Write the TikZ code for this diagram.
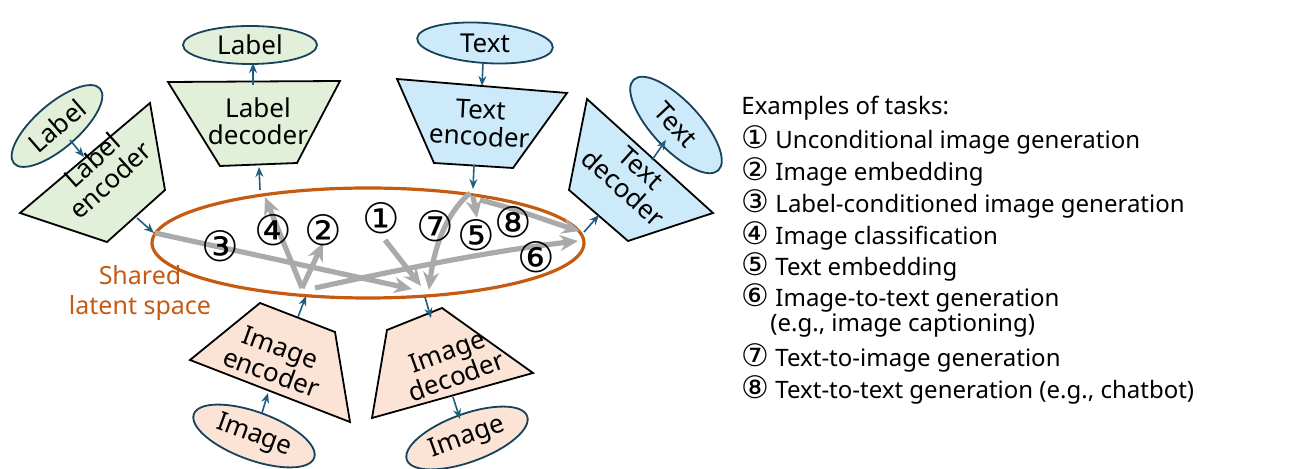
\documentclass[tikz,border=0pt]{standalone}
\usepackage{fontspec}
\setmainfont{Noto Sans}
\newfontfamily\circfont{DejaVu Sans}
\usetikzlibrary{arrows.meta}
\definecolor{lgreen}{RGB}{226,240,217}
\definecolor{lblue}{RGB}{204,234,250}
\definecolor{lsalmon}{RGB}{251,228,213}
\definecolor{darr}{RGB}{31,94,130}
\definecolor{orng}{RGB}{197,90,17}
\definecolor{garr}{RGB}{170,170,170}
\tikzset{
 shp/.style={draw=black,line width=0.9pt,line join=miter},
 ell/.style={draw=darr!70!black,line width=0.9pt},
 lbl/.style={font=\fontsize{13}{13.5}\selectfont,align=center,inner sep=0pt},
 barr/.style={-{Stealth[length=5pt,width=4pt]},darr,line width=0.8pt},
 garrow/.style={-{Stealth[length=9pt,width=8pt]},garr,line width=2.6pt},
 num/.style={font=\circfont\fontsize{21}{21}\selectfont,inner sep=0pt},
 task/.style={font=\fontsize{12}{13}\selectfont,anchor=west,inner sep=0pt}
}
\newcommand{\cn}[1]{{\circfont\fontsize{15.5}{13}\selectfont #1}}
\begin{document}
\begin{tikzpicture}[x=0.5pt,y=-0.5pt]
\useasboundingbox (0,0) rectangle (1290,469);
% latent ellipse
\draw[orng,line width=1.6pt] (368,243) ellipse [x radius=216,y radius=55];
\node[lbl,text=orng,font=\fontsize{12.5}{15}\selectfont] (sls) at (140,293) {Shared\\latent space};
% Label encoder
\draw[shp,fill=lgreen] (150,103)--(165,190)--(107,242)--(20,213)--cycle;
\node[lbl,rotate=42] (le) at (101,170) {Label\\encoder};
\draw[ell,fill=lgreen,rotate around={41:(57,126)}] (57,126) ellipse [x radius=57,y radius=22];
\node[lbl,rotate=41] (lin) at (57,126) {Label};
\coordinate (a1) at (70,140); \coordinate (a2) at (84,157);
\draw[barr] (a1)--(a2);
\coordinate (a3) at (137,218); \coordinate (a4) at (154,233);
\draw[barr] (a3)--(a4);
% Label decoder
\draw[shp,fill=lgreen] (168,82)--(340,81)--(297,163)--(220,166)--cycle;
\node[lbl] (ld) at (258,121) {Label\\decoder};
\draw[ell,fill=lgreen] (250,45) ellipse [x radius=67,y radius=19];
\node[lbl] (lout) at (250,45) {Label};
\coordinate (b1) at (253,85); \coordinate (b2) at (253,63);
\draw[barr] (b1)--(b2);
\coordinate (b3) at (260,190); \coordinate (b4) at (259,167);
\draw[barr] (b3)--(b4);
% Text encoder
\draw[shp,fill=lblue] (397,79)--(567,93)--(513,168)--(434,163)--cycle;
\node[lbl,rotate=-3] (te) at (480,123) {Text\\encoder};
\draw[ell,fill=lblue,rotate around={-4:(485,43)}] (485,43) ellipse [x radius=68,y radius=20];
\node[lbl] (tin) at (485,43) {Text};
\coordinate (c1) at (483,63); \coordinate (c2) at (482,86);
\draw[barr] (c1)--(c2);
\coordinate (c3) at (474,165); \coordinate (c4) at (473,189);
\draw[barr] (c3)--(c4);
% Text decoder
\draw[shp,fill=lblue] (587,99)--(713,213)--(628,241)--(569,190)--cycle;
\node[lbl,rotate=-42] (td) at (632,178) {Text\\decoder};
\draw[ell,fill=lblue,rotate around={-47:(676,125)}] (676,125) ellipse [x radius=62,y radius=24];
\node[lbl,rotate=-47] (tout) at (676,125) {Text};
\coordinate (d1) at (652,160); \coordinate (d2) at (666,140);
\draw[barr] (d1)--(d2);
\coordinate (d3) at (584,232); \coordinate (d4) at (599,215);
\draw[barr] (d3)--(d4);
% Image encoder
\draw[shp,fill=lsalmon] (260,303)--(335,332)--(350,422)--(190,360)--cycle;
\node[lbl,rotate=-20] (ie) at (276,360) {Image\\encoder};
\draw[ell,fill=lsalmon,rotate around={-20:(254,436)}] (254,436) ellipse [x radius=64,y radius=24];
\node[lbl,rotate=-20] (iin) at (254,436) {Image};
\coordinate (e1) at (262,413); \coordinate (e2) at (268,393);
\draw[barr] (e1)--(e2);
\coordinate (e3) at (298,317); \coordinate (e4) at (306,296);
\draw[barr] (e3)--(e4);
% Image decoder
\draw[shp,fill=lsalmon] (387,330)--(442,308)--(533,373)--(372,418)--cycle;
\node[lbl,rotate=20] (id) at (452,364) {Image\\decoder};
\draw[ell,fill=lsalmon,rotate around={20:(467,438)}] (467,438) ellipse [x radius=64,y radius=24];
\node[lbl,rotate=20] (iout) at (467,438) {Image};
\coordinate (f1) at (425,297); \coordinate (f2) at (431,318);
\draw[barr] (f1)--(f2);
\coordinate (f3) at (453,397); \coordinate (f4) at (460,419);
\draw[barr] (f3)--(f4);
% gray task arrows
\coordinate (pI) at (302,288); \coordinate (pI2) at (315,288);
\coordinate (pL) at (155,233); \coordinate (pT) at (470,193);
\draw[garrow] (pI) -- (265,197);
\draw[garrow] (pI) -- (323,243);
\draw[garrow] (pI2) .. controls (420,265) and (500,250) .. (578,241);
\draw[garrow] (pL) -- (412,289);
\draw[garrow] (385,240) -- (421,286);
\draw[garrow] (pT) .. controls (450,210) and (435,240) .. (429,290);
\draw[garrow] (473,196) -- (477,218);
\draw[garrow] (480,200) .. controls (520,210) and (550,222) .. (580,231);
% numbers
\node[num] (n3) at (220,246) {③};
\node[num] (n4) at (273,230) {④};
\node[num] (n2) at (323,230) {②};
\node[num] (n1) at (381,218) {①};
\node[num] (n7) at (435,226) {⑦};
\node[num] (n5) at (476,235) {⑤};
\node[num] (n8) at (513,222) {⑧};
\node[num] (n6) at (536,257) {⑥};
% task list
\node[task] (t0) at (741,108) {Examples of tasks:};
\node[task] (t1) at (741,140) {\cn{①} Unconditional image generation};
\node[task] (t2) at (741,172) {\cn{②} Image embedding};
\node[task] (t3) at (741,204) {\cn{③} Label-conditioned image generation};
\node[task] (t4) at (741,236) {\cn{④} Image classification};
\node[task] (t5) at (741,267) {\cn{⑤} Text embedding};
\node[task] (t6) at (741,298) {\cn{⑥} Image-to-text generation};
\node[task] (t6b) at (770,326) {(e.g., image captioning)};
\node[task] (t7) at (741,358) {\cn{⑦} Text-to-image generation};
\node[task] (t8) at (741,390) {\cn{⑧} Text-to-text generation (e.g., chatbot)};
\end{tikzpicture}
\end{document}
